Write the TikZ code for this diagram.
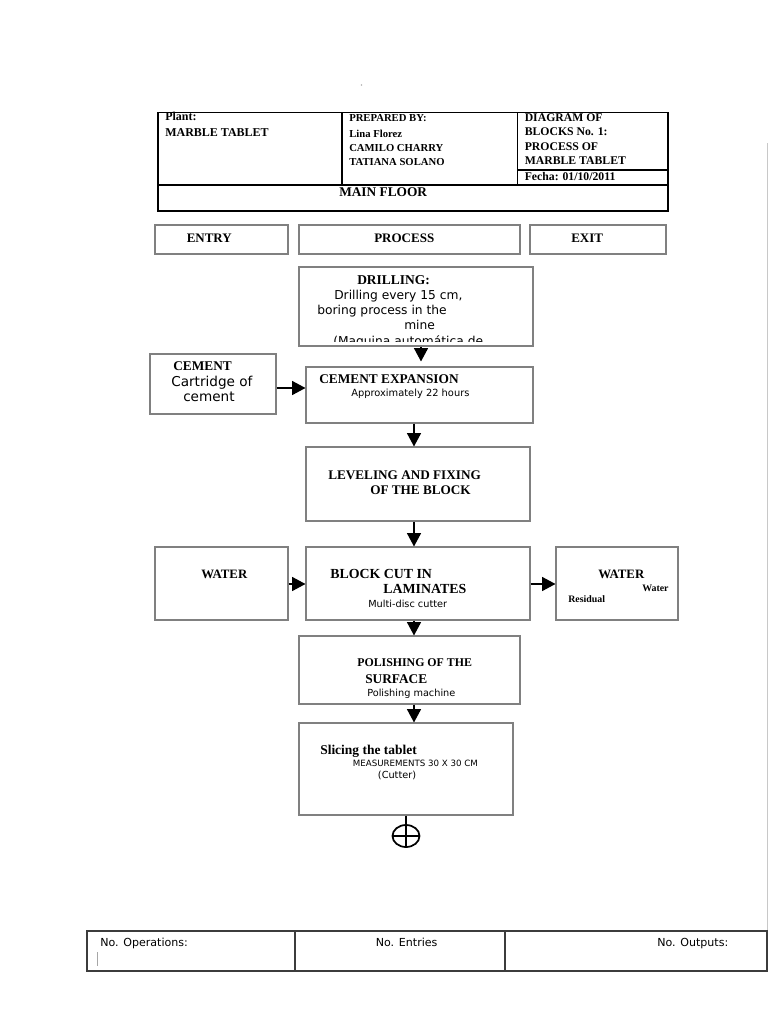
\documentclass[tikz,border=0pt]{standalone}
\usepackage{fontspec}
\setmainfont{Liberation Serif}
\newfontfamily\dvs{DejaVu Sans}
\usetikzlibrary{arrows.meta,shapes.geometric}
\newcommand\pxu{0.75pt}
\newcommand\fsz[1]{\fontsize{#1pt}{#1pt}\selectfont}
\definecolor{boxgray}{HTML}{808080}
\definecolor{tblgray}{HTML}{3C3C3C}
\definecolor{edgegray}{HTML}{C8C8C8}
\begin{document}
\begin{tikzpicture}[x=0.75pt,y=-0.75pt,
  gbox/.style={draw=boxgray,line width=0.8pt,inner sep=0},
  tbl/.style={draw=black,line width=1.1pt},
  t/.style={anchor=base west,inner sep=0},
  sf/.style={font=\bfseries\fsz{#1}},
  ss/.style={font=\dvs\fsz{#1}},
  arr/.style={draw=black,line width=0.9pt,-{Triangle[length=10pt,width=10.5pt]}},
]
\useasboundingbox (0,0) rectangle (768,1024);

% tiny dot near top
\fill[gray!60] (361.5,85) circle (0.8);

% header table
\node[tbl,inner sep=0,minimum width=510*\pxu,minimum height=98.3*\pxu] (hdr) at (413,161.85) {};
\draw[tbl] (hdr.west |- 0,185) -- (hdr.east |- 0,185);
\draw[tbl] (342,112.7) -- (342,185);
\draw[tbl] (517.5,112.7) -- (517.5,185);
\draw[tbl] (517.5,170) -- (hdr.east |- 0,170);

\node[t,sf=9] (h1) at (165,120) {Plant:};
\node[t,sf=9] (h2) at (165,137) {MARBLE TABLET};
\node[t,sf=8] (h3) at (349,121) {PREPARED BY:};
\node[t,sf=8] (h4) at (349,137.5) {Lina Florez};
\node[t,sf=8] (h5) at (349,151) {CAMILO CHARRY};
\node[t,sf=8] (h6) at (349,165) {TATIANA SOLANO};
\node[t,sf=8.8] (h7) at (524.5,121.4) {DIAGRAM OF};
\node[t,sf=8.8] (h8) at (524.5,135.4) {BLOCKS No. 1:};
\node[t,sf=8.8] (h9) at (524.5,150) {PROCESS OF};
\node[t,sf=8.8] (h10) at (524.5,164.4) {MARBLE TABLET};
\node[t,sf=8.8] (h11) at (524.5,180.5) {Fecha: 01/10/2011};
\node[t,sf=10] (h12) at (339,196.4) {MAIN FLOOR};

% column headings
\node[gbox,minimum width=133*\pxu,minimum height=29*\pxu] (entry) at (221.5,239.5) {};
\node[gbox,minimum width=221*\pxu,minimum height=29*\pxu] (process) at (409.5,239.5) {};
\node[gbox,minimum width=136*\pxu,minimum height=29*\pxu] (exit) at (598,239.5) {};
\node[t,sf=9.75] (lentry) at (186.5,242.7) {ENTRY};
\node[t,sf=9.75] (lprocess) at (374,242.7) {PROCESS};
\node[t,sf=9.75] (lexit) at (571,242.7) {EXIT};

% process boxes
\node[gbox,minimum width=234*\pxu,minimum height=79*\pxu] (drill) at (416,306.5) {};
\node[gbox,minimum width=126*\pxu,minimum height=60*\pxu] (cement) at (213,384) {};
\node[gbox,minimum width=227*\pxu,minimum height=56*\pxu] (cexp) at (419.5,395) {};
\node[gbox,minimum width=224*\pxu,minimum height=74*\pxu] (level) at (418,484) {};
\node[gbox,minimum width=133*\pxu,minimum height=73*\pxu] (waterin) at (221.5,583.5) {};
\node[gbox,minimum width=224*\pxu,minimum height=73*\pxu] (cut) at (418,583.5) {};
\node[gbox,minimum width=122*\pxu,minimum height=73*\pxu] (waterout) at (617,583.5) {};
\node[gbox,minimum width=221*\pxu,minimum height=68*\pxu] (polish) at (409.5,670) {};
\node[gbox,minimum width=214*\pxu,minimum height=92*\pxu] (slice) at (406,769) {};

% texts
\node[t,sf=10.1] (d1) at (357,284.5) {DRILLING:};
\node[t,ss=9.2] (d2) at (334,299.5) {Drilling every 15 cm,};
\node[t,ss=9.2] (d3) at (317,314.5) {boring process in the};
\node[t,ss=9.2] (d4) at (404,329.5) {mine};
\begin{scope}
\clip (299,268) rectangle (533,341);
\node[t,ss=9.2] (d5) at (333,345.5) {(Maquina automática de};
\end{scope}

\node[t,sf=10] (c1) at (173,370.4) {CEMENT};
\node[t,ss=10.2] (c2) at (171,386) {Cartridge of};
\node[t,ss=10.2] (c3) at (183,401.7) {cement};

\node[t,sf=10] (e1) at (319,383.4) {CEMENT EXPANSION};
\node[t,ss=7.4] (e2) at (351,396) {Approximately 22 hours};

\node[t,sf=9.9] (l1) at (328,479.4) {LEVELING AND FIXING};
\node[t,sf=9.9] (l2) at (370,494.4) {OF THE BLOCK};

\node[t,sf=9.6] (w1) at (201,578.3) {WATER};
\node[t,sf=10.4] (b1) at (330,578.3) {BLOCK CUT IN};
\node[t,sf=10.4] (b2) at (383,593.6) {LAMINATES};
\node[t,ss=7.3] (b3) at (368,607.3) {Multi-disc cutter};
\node[t,sf=9.6] (w2) at (598,578.3) {WATER};
\node[t,sf=7.4] (w3) at (642,591) {Water};
\node[t,sf=7.4] (w4) at (568,602.3) {Residual};

\node[t,sf=8.9] (p1) at (357,666.6) {POLISHING OF THE};
\node[t,sf=10] (p2) at (365,683.1) {SURFACE};
\node[t,ss=7.3] (p3) at (367,696) {Polishing machine};

\node[t,sf=10.1] (s1) at (320,754) {Slicing the tablet};
\node[t,ss=6.5] (s2) at (352.7,766.7) {MEASUREMENTS 30 X 30 CM};
\node[t,ss=7.3] (s3) at (377.7,778.5) {(Cutter)};

% connectors
\coordinate (ax1) at (421,0);
\coordinate (ax2) at (414,0);
\coordinate (ay1) at (0,388);
\coordinate (ay2) at (0,584);
\draw[arr,shorten >=3.75pt] (drill.south -| ax1) -- (cexp.north -| ax1);
\draw[arr] (cexp.south -| ax2) -- (level.north -| ax2);
\draw[arr] (level.south -| ax2) -- (cut.north -| ax2);
\draw[arr] (cut.south -| ax2) -- (polish.north -| ax2);
\draw[arr] (polish.south -| ax2) -- (slice.north -| ax2);
\draw[arr] (cement.east |- ay1) -- (cexp.west |- ay1);
\draw[arr] (waterin.east |- ay2) -- (cut.west |- ay2);
\draw[arr] (cut.east |- ay2) -- (waterout.west |- ay2);

% end symbol
\node[draw=black,line width=1.3pt,ellipse,minimum width=27*\pxu,minimum height=22*\pxu,inner sep=0] (endsym) at (406,836) {};
\draw[line width=1.6pt] (slice.south) -- (endsym.north);
\draw[line width=1.2pt] (endsym.north) -- (endsym.south);
\draw[line width=1.2pt] (endsym.west) -- (endsym.east);

% right page edge line
\draw[edgegray,line width=0.75pt] (767,143) -- (767,931);

% bottom table
\node[draw=tblgray,line width=0.8pt,inner sep=0,minimum width=680*\pxu,minimum height=40*\pxu] (foot) at (427,951) {};
\draw[tblgray,line width=0.8pt] (295,931) -- (295,971);
\draw[tblgray,line width=0.8pt] (505,931) -- (505,971);
\node[t,ss=8.3] (f1) at (100,946) {No. Operations:};
\node[t,ss=8.3] (f2) at (375.6,946) {No. Entries};
\node[t,ss=8.3] (f3) at (657,946) {No. Outputs:};
\draw[gray!70,line width=0.4pt] (97.7,952) -- (97.7,966);
\end{tikzpicture}
\end{document}
